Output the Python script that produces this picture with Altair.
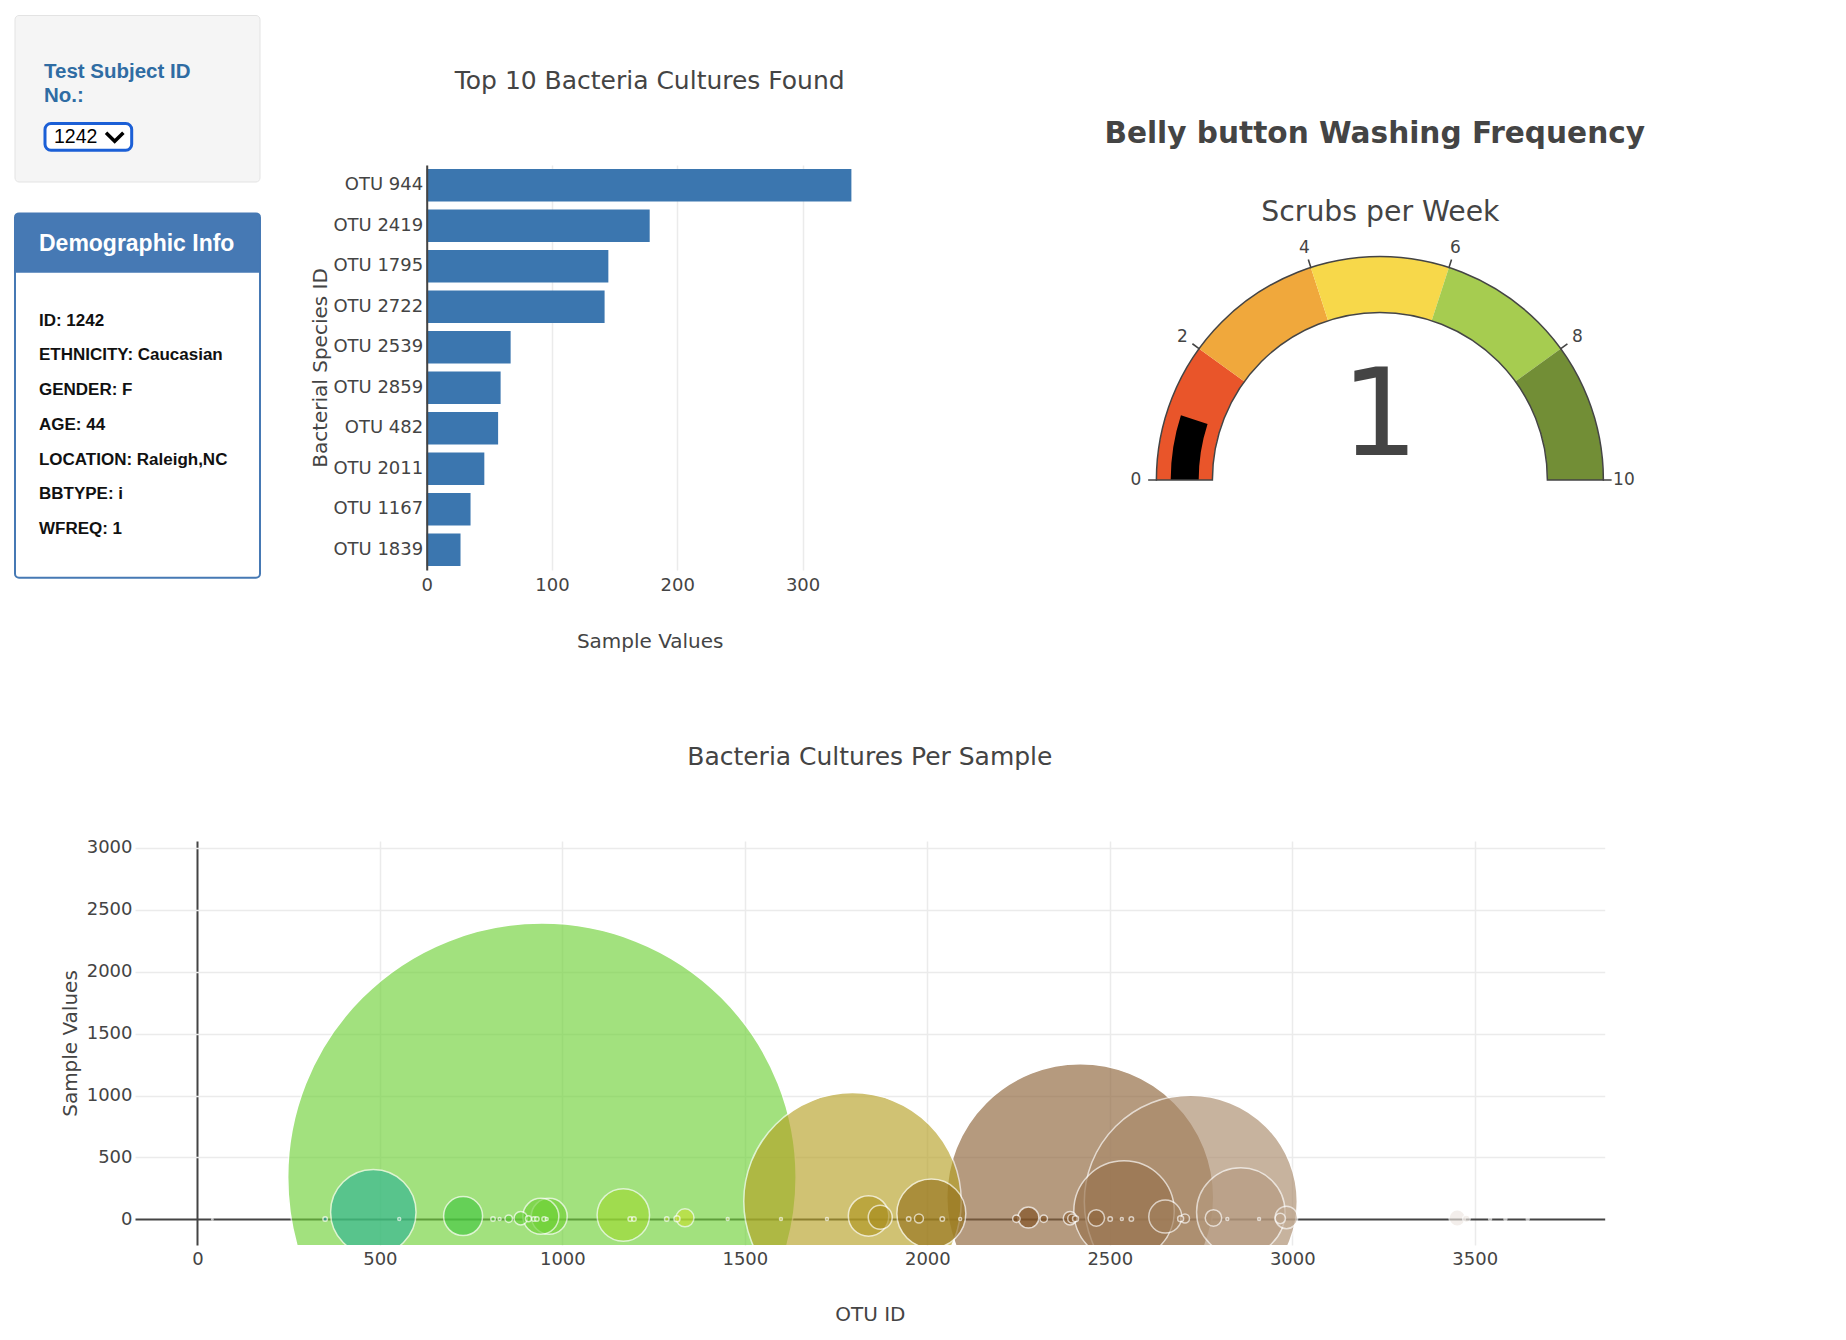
import math
import altair as alt
import pandas as pd

# ---------------- data ----------------
subject_ids = ["1242"]
demo_labels = ["ID: 1242", "ETHNICITY: Caucasian", "GENDER: F", "AGE: 44",
               "LOCATION: Raleigh,NC", "BBTYPE: i", "WFREQ: 1"]

bar_title = "Top 10 Bacteria Cultures Found"
top10_labels = ["OTU 944", "OTU 2419", "OTU 1795", "OTU 2722", "OTU 2539",
                "OTU 2859", "OTU 482", "OTU 2011", "OTU 1167", "OTU 1839"]
top10_values = [339, 178, 145, 142, 67, 59, 57, 46, 35, 27]

bubble_title = "Bacteria Cultures Per Sample"
otu_ids = [944, 2419, 1795, 2722, 2539, 2859, 482, 2011, 1167, 1839,
           728, 964, 941, 2652, 1871, 2984, 2277, 1336, 2463, 2784, 3452,
           886, 2391, 2967, 1977, 2397, 2706, 3477, 2244, 2319, 853,
           907, 2406, 2694, 1314,
           350, 810, 922, 930, 950, 1186, 1196, 1286, 1949, 2041, 2501, 2559,
           553, 828, 957, 1453, 1599, 1725, 2090, 2533, 2822, 2909, 3542, 3584, 3645,
           41]
otu_values = [339, 178, 145, 142, 67, 59, 57, 46, 35, 27,
              26, 24, 24, 22, 16, 15, 14, 12, 11, 11, 11,
              9, 9, 7, 6, 6, 6, 5, 5, 5, 5,
              4, 4, 4, 4,
              3, 3, 3, 3, 3, 3, 3, 3, 3, 3, 3, 3,
              2, 2, 2, 2, 2, 2, 2, 2, 2, 2, 2, 2, 2,
              1]

gauge_title = "Belly button Washing Frequency"
gauge_subtitle = "Scrubs per Week"
gauge_ticks = [0, 2, 4, 6, 8, 10]
step_names = ["0-2", "2-4", "4-6", "6-8", "8-10"]
step_starts = [0, 2, 4, 6, 8]
step_ends = [2, 4, 6, 8, 10]
step_colors = ["#e9552a", "#f0a83c", "#f7d84a", "#a6cc50", "#728e36"]
wfreq = [1]

earth_stops = [0, 0.1, 0.2, 0.4, 0.6, 1.0]
earth_colors = ["rgb(0,0,130)", "rgb(40,175,175)", "rgb(70,202,55)",
                "rgb(230,230,50)", "rgb(120,70,20)", "rgb(255,255,255)"]

FONT = "DejaVu Sans"
HFONT = "Liberation Sans"
GREY = "#444444"
one = pd.DataFrame({"k": [0]})


def box(x0, x1, y0, y1, **kw):
    return alt.Chart(one).mark_rect(**kw).encode(
        x=alt.value(x0), x2=alt.value(x1), y=alt.value(y0), y2=alt.value(y1))


def label(text, x, y, **kw):
    return alt.Chart(pd.DataFrame({"t": [text]})).mark_text(**kw).encode(
        text="t:N", x=alt.value(x), y=alt.value(y))


ROW_W = 1469.7
ROW_H = 405

# ---------------- left panels (offset -120 from row origin) ----------------
PX = -120
well = box(PX, PX + 245, -149.5, 17, fill="#f5f5f5", stroke="#e3e3e3", strokeWidth=1, cornerRadius=4)
t1 = label("Test Subject ID", PX + 29, -93, align="left", baseline="middle", font=HFONT,
           fontSize=20.5, fontWeight="bold", color="#2f6ca3")
t2 = label("No.:", PX + 29, -69, align="left", baseline="middle", font=HFONT,
           fontSize=20.5, fontWeight="bold", color="#2f6ca3")
sel = box(PX + 30, PX + 116.7, -41.5, -14.7, fill="white", stroke="#1b5fd6", strokeWidth=3, cornerRadius=6)
sel_txt = alt.Chart(pd.DataFrame({"id": subject_ids})).mark_text(
    align="left", baseline="middle", font=HFONT, fontSize=19.5, color="black").encode(
    text="id:N", x=alt.value(PX + 39), y=alt.value(-28))
chev = alt.Chart(one).mark_point(shape="M-1,-0.5L0,0.5L1,-0.5", filled=False, color="black",
                                 strokeWidth=3.5, size=300, opacity=1).encode(
    x=alt.value(PX + 99.7), y=alt.value(-28))
panel = box(PX, PX + 245, 48.4, 412.7, fill="white", stroke="#4679b4", strokeWidth=2, cornerRadius=4)
header = box(PX, PX + 245, 48.4, 107.7, fill="#4679b4", cornerRadiusTopLeft=4, cornerRadiusTopRight=4)
htxt = label("Demographic Info", PX + 24, 79, align="left", baseline="middle", font=HFONT,
             fontSize=23, fontWeight="bold", color="white")
items = alt.Chart(pd.DataFrame({"label": demo_labels, "row": list(range(len(demo_labels)))})).mark_text(
    align="left", baseline="middle", font=HFONT, fontSize=17, fontWeight="bold", color="#111111").encode(
    x=alt.value(PX + 24),
    y=alt.Y("row:Q", scale=alt.Scale(domain=[0, 6], range=[155.6, 364.1]), axis=None),
    text="label:N")

# ---------------- bar chart ----------------
BX0, BX1 = 291.7, 737.7
bar_df = pd.DataFrame({"otu": top10_labels, "value": top10_values})
bars = alt.Chart(bar_df).mark_bar(color="#3b76af").encode(
    x=alt.X("value:Q", scale=alt.Scale(domain=[0, 356], nice=False, zero=True, range=[BX0, BX1]),
            axis=alt.Axis(values=[0, 100, 200, 300], grid=True, gridColor="#ebebeb", gridWidth=1.5,
                          domain=False, ticks=False, tickSize=0, labelFont=FONT, labelFontSize=18,
                          labelColor=GREY, labelPadding=15, labelBaseline="middle", labelFlush=False,
                          title="Sample Values", titleFont=FONT, titleFontSize=20,
                          titleFontWeight="normal", titleColor=GREY, titleX=(BX0 + BX1) / 2,
                          titleY=71, titleBaseline="middle", titleAlign="center")),
    y=alt.Y("otu:N", sort="-x", scale=alt.Scale(paddingInner=0.2, paddingOuter=0.1),
            axis=alt.Axis(grid=False, ticks=False, tickSize=0, domain=True, domainColor=GREY,
                          domainWidth=2, labelFont=FONT, labelFontSize=18, labelColor=GREY,
                          labelPadding=4, title="Bacterial Species ID", titleFont=FONT,
                          titleFontSize=20, titleFontWeight="normal", titleColor=GREY,
                          titleX=-106, titleY=202.5, titleBaseline="middle", titleAngle=270,
                          offset=-BX0, zindex=1)),
)
bar_ttl = label(bar_title, (BX0 + BX1) / 2, -84.4, baseline="middle", font=FONT, fontSize=25, color=GREY)

# ---------------- gauge ----------------
CX, CY = 1244.9, 315
tsc = alt.Scale(domain=[0, 10], range=[-math.pi / 2, math.pi / 2])
steps_df = pd.DataFrame({"name": step_names, "start": step_starts, "end": step_ends})
steps = alt.Chart(steps_df).mark_arc().encode(
    theta=alt.Theta("start:Q", scale=tsc, stack=False), theta2="end:Q",
    radius=alt.value(223.5), radius2=alt.value(167.5),
    color=alt.Color("name:N", scale=alt.Scale(domain=step_names, range=step_colors), legend=None),
    x=alt.value(CX), y=alt.value(CY))
needle = alt.Chart(pd.DataFrame({"lo": [0], "v": wfreq})).mark_arc(color="black").encode(
    theta=alt.Theta("lo:Q", scale=tsc, stack=False), theta2="v:Q",
    radius=alt.value(209.2), radius2=alt.value(181.2), x=alt.value(CX), y=alt.value(CY))
outline = alt.Chart(pd.DataFrame({"lo": [gauge_ticks[0]], "hi": [gauge_ticks[-1]]})).mark_arc(
    filled=False, stroke=GREY, strokeWidth=1.5).encode(
    theta=alt.Theta("lo:Q", scale=tsc, stack=False), theta2="hi:Q",
    radius=alt.value(223.5), radius2=alt.value(167.5), x=alt.value(CX), y=alt.value(CY))
tick_df = pd.DataFrame({"t": gauge_ticks})
tick_marks = alt.Chart(tick_df).transform_calculate(t2="datum.t + 0.001").mark_arc(
    filled=False, stroke=GREY, strokeWidth=1.5).encode(
    theta=alt.Theta("t:Q", scale=tsc, stack=False), theta2="t2:Q",
    radius=alt.value(231), radius2=alt.value(223.5), x=alt.value(CX), y=alt.value(CY))
tick_lbls = alt.Chart(tick_df).mark_text(font=FONT, fontSize=17, color=GREY, baseline="middle").encode(
    theta=alt.Theta("t:Q", scale=tsc, stack=False), radius=alt.value(244),
    text="t:Q", x=alt.value(CX), y=alt.value(CY))
number = alt.Chart(pd.DataFrame({"w": wfreq})).mark_text(
    font=FONT, fontSize=122, color=GREY, baseline="alphabetic").encode(
    text="w:Q", x=alt.value(CX), y=alt.value(290))
g_sub = label(gauge_subtitle, CX + 0.5, 47.7, baseline="middle", font=FONT, fontSize=28.3, color=GREY)
g_ttl = label(gauge_title, CX - 5.2, -30.7, baseline="middle", font=FONT, fontSize=29.6,
              fontWeight="bold", color=GREY)

row1 = alt.layer(
    well, t1, t2, sel, sel_txt, chev, panel, header, htxt, items,
    bars, bar_ttl,
    steps, needle, outline, tick_marks, tick_lbls, number, g_sub, g_ttl,
).resolve_scale(y="independent").properties(width=ROW_W, height=ROW_H)

# ---------------- bubble chart ----------------
bub_df = pd.DataFrame({"otu": otu_ids, "value": otu_values})
cmin, cmax = min(otu_ids), max(otu_ids)
vmax = max(otu_values)
area_max = (1.5 * vmax) ** 2
zero_color = alt.condition("datum.value === 0", alt.value(GREY), alt.value("#ebebeb"))
zero_width = alt.condition("datum.value === 0", alt.value(2), alt.value(1.5))
circles = alt.Chart(bub_df).mark_circle(opacity=0.64, stroke="white", strokeWidth=1.5, clip=True).encode(
    x=alt.X("otu:Q", scale=alt.Scale(domain=[-171, 3856], nice=False, zero=False),
            axis=alt.Axis(values=[0, 500, 1000, 1500, 2000, 2500, 3000, 3500], format="d", grid=True,
                          gridColor=zero_color, gridWidth=zero_width, domain=False, ticks=False,
                          tickSize=0, labelFont=FONT, labelFontSize=18, labelColor=GREY,
                          labelPadding=15, labelBaseline="middle", labelFlush=False,
                          title="OTU ID", titleFont=FONT,
                          titleFontSize=20, titleFontWeight="normal", titleColor=GREY, titleY=70,
                          titleBaseline="middle")),
    y=alt.Y("value:Q", scale=alt.Scale(domain=[-207.6, 3056], nice=False, zero=False),
            axis=alt.Axis(values=[0, 500, 1000, 1500, 2000, 2500, 3000], format="d", grid=True,
                          gridColor=zero_color, gridWidth=zero_width, domain=False, ticks=False,
                          tickSize=0, labelFont=FONT, labelFontSize=18, labelColor=GREY,
                          labelPadding=3, labelBaseline="middle", labelFlush=False,
                          title="Sample Values",
                          titleFont=FONT, titleFontSize=20, titleFontWeight="normal",
                          titleColor=GREY, titleX=-64.8, titleY=202, titleBaseline="middle",
                          titleAngle=270)),
    size=alt.Size("value:Q", scale=alt.Scale(type="pow", exponent=2, domain=[0, vmax],
                                             range=[0, area_max]), legend=None),
    color=alt.Color("otu:Q", scale=alt.Scale(domain=[cmin + s * (cmax - cmin) for s in earth_stops],
                                             range=earth_colors, interpolate="rgb"), legend=None),
    order=alt.Order("value:Q", sort="descending"),
)
bub_ttl = label(bubble_title, ROW_W / 2, -84.2, baseline="middle", font=FONT, fontSize=25, color=GREY)
bubble = alt.layer(circles, bub_ttl).properties(width=ROW_W, height=404)

chart = alt.vconcat(row1, bubble, spacing=271, bounds="flush").properties(
    padding={"left": 6, "top": 7, "right": 5, "bottom": 5}
).configure(background="white").configure_view(strokeWidth=0)

chart.save("out.html", embed_options={"renderer": "svg", "actions": False})
